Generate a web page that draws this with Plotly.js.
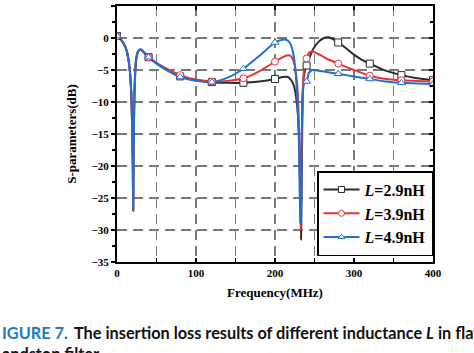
<!DOCTYPE html>
<html><head><meta charset="utf-8">
<script src="https://cdn.plot.ly/plotly-3.0.1.min.js"></script>
<style>body{margin:0;background:#fff}#chart{width:474px;height:353px}</style>
</head><body><div id="chart"></div>
<script>
// shared low-frequency part (first notch)
const freqCommon = [0,3,6,9,12,14,16,18,19,20,20.5,21,22,23,24,26,28,30,33,36];
const sCommon    = [0.3,0,-0.4,-1.0,-1.9,-3.0,-4.8,-8.5,-13,-20,-27,-18,-9,-5.5,-3.6,-2.3,-1.9,-1.8,-2.1,-2.5];

// L = 2.9 nH
const freq29 = [40,60,80,100,120,140,160,180,200,210,216,220,224,227,229,231,233,234,235,236,238,240,242,248,255,262,268,275,280,290,300,310,320,340,360,380,400];
const s29    = [-3.0,-4.8,-6.0,-6.6,-6.9,-7.0,-7.0,-6.8,-6.4,-6.1,-6.1,-6.5,-7.5,-9.5,-12,-18,-31.5,-20,-9,-6.5,-5.0,-4.3,-3.6,-1.8,-0.6,0,0.1,-0.3,-0.7,-1.6,-2.6,-3.4,-4.0,-5.1,-5.8,-6.3,-6.6];

// L = 3.9 nH
const freq39 = [40,60,80,100,120,140,160,180,200,210,216,220,224,227,229,231,232.5,234,236,238,240,243,247,255,265,280,300,320,340,360,380,400];
const s39    = [-3.0,-4.6,-5.8,-6.5,-6.8,-6.7,-6.3,-5.2,-3.7,-3.0,-2.7,-2.8,-3.8,-6,-9,-17,-30,-15,-6,-3.8,-3.2,-2.3,-2.1,-2.5,-3.2,-4.0,-5.0,-5.9,-6.4,-6.6,-6.7,-6.8];

// L = 4.9 nH
const freq49 = [40,60,80,100,120,140,160,180,200,208,213,218,222,225,228,230,232,233.5,235,237,240,243,248,255,265,280,300,320,340,360,380,400];
const s49    = [-3.0,-4.8,-6.1,-6.7,-6.9,-6.2,-4.8,-2.8,-0.7,-0.3,-0.25,-0.6,-1.8,-4,-9,-15,-29,-18,-9,-7.0,-6.8,-5.4,-5.0,-5.1,-5.3,-5.6,-6.0,-6.4,-6.8,-7.0,-7.1,-7.2];

const seriesNames = ['<i>L</i>=2.9nH','<i>L</i>=3.9nH','<i>L</i>=4.9nH'];
const markerStep = 40;

const colors = ['#2b2b2b','#e8333a','#1f6fd0'];
const symbols = ['square','circle','triangle-up'];
const serif = 'Liberation Serif, Times New Roman, serif';
const sans = 'Lato, Open Sans, sans-serif';

const sets = [[freq29,s29],[freq39,s39],[freq49,s49]];
const traces = [];
sets.forEach(([f,s],i)=>{
  const x = freqCommon.concat(f), y = sCommon.concat(s);
  traces.push({x, y, mode:'lines', type:'scatter', showlegend:false,
    line:{color:colors[i], width:2, shape:'spline', smoothing:0.6}, hoverinfo:'skip'});
});
sets.forEach(([f,s],i)=>{
  const x = freqCommon.concat(f), y = sCommon.concat(s);
  const mx=[], my=[];
  x.forEach((v,k)=>{ if (v % markerStep === 0) { mx.push(v); my.push(y[k]); } });
  traces.push({x:mx, y:my, mode:'markers', type:'scatter', showlegend:false,
    marker:{symbol:symbols[i], size:7, color:'#fff', line:{color:colors[i], width:1}}});
});
sets.forEach((_,i)=>{
  traces.push({x:[null], y:[null], mode:'lines+markers', type:'scatter', name:seriesNames[i],
    line:{color:colors[i], width:2},
    marker:{symbol:symbols[i], size:6, color:'#fff', line:{color:colors[i], width:1}}});
});

const gridStyle = {gridcolor:'#7a7a7a', gridwidth:1.6, griddash:'10px,6px'};
const layout = {
  width:474, height:353,
  margin:{l:117, r:41, t:6, b:91},
  paper_bgcolor:'#fff', plot_bgcolor:'#fff',
  font:{family:serif, color:'#000', size:11},
  xaxis:Object.assign({range:[0,400], tick0:0, dtick:100, ticks:'inside', ticklen:4, tickwidth:1.5,
    tickcolor:'#000', showline:true, linewidth:2, linecolor:'#000', mirror:'allticks', showgrid:true, zeroline:false,
    tickfont:{family:serif, size:11, weight:'bold'},
    minor:Object.assign({dtick:50, ticks:'inside', ticklen:4, tickwidth:1.5, tickcolor:'#000', showgrid:true}, gridStyle),
    title:{text:'Frequency(MHz)', font:{family:serif, size:13, weight:'bold'}, standoff:10}}, gridStyle),
  yaxis:Object.assign({range:[-35,5], tick0:0, dtick:5, ticks:'outside', ticklen:4, tickwidth:1.5,
    tickcolor:'#000', showline:true, linewidth:2, linecolor:'#000', mirror:true, showgrid:true, zeroline:false,
    tickfont:{family:serif, size:11, weight:'bold'},
    minor:{dtick:2.5, ticks:'outside', ticklen:3, tickwidth:1.5, tickcolor:'#000'},
    title:{text:'S-parameters(dB)', font:{family:serif, size:13, weight:'bold'}, standoff:12}}, gridStyle),
  yaxis2:{overlaying:'y', side:'right', range:[-35,5], tick0:0, dtick:5, ticks:'inside', ticklen:4, tickwidth:1.5,
    tickcolor:'#000', showticklabels:false, showgrid:false, zeroline:false, showline:false,
    minor:{dtick:2.5, ticks:'inside', ticklen:3, tickwidth:1.5, tickcolor:'#000'}},
  legend:{x:1, xanchor:'right', y:0.023, yanchor:'bottom', bordercolor:'#000', borderwidth:1.5, bgcolor:'#fff',
    font:{family:serif, size:16, weight:'bold'}, itemwidth:36, tracegroupgap:0},
  annotations:[
    {xref:'paper', yref:'paper', x:-117/316, y:(262-332)/256, xanchor:'left', yanchor:'middle', showarrow:false,
     text:'<b>IGURE 7.</b>', font:{family:sans, size:16.3, color:'#1a7bbf'}},
    {xref:'paper', yref:'paper', x:(72-117)/316, y:(262-332)/256, xanchor:'left', yanchor:'middle', showarrow:false,
     text:'<b>The insertion loss results of different inductance <i>L</i> in flat</b>', font:{family:sans, size:16.3, color:'#111'}},
    {xref:'paper', yref:'paper', x:-117/316, y:(262-353)/256, xanchor:'left', yanchor:'middle', showarrow:false,
     text:'<b>andstop filter</b>', font:{family:sans, size:16.3, color:'#111'}}
  ]
};
traces.push({x:[null], y:[null], yaxis:'y2', showlegend:false, hoverinfo:'skip'});
Plotly.newPlot('chart', traces, layout, {displayModeBar:false, staticPlot:true});
</script></body></html>
